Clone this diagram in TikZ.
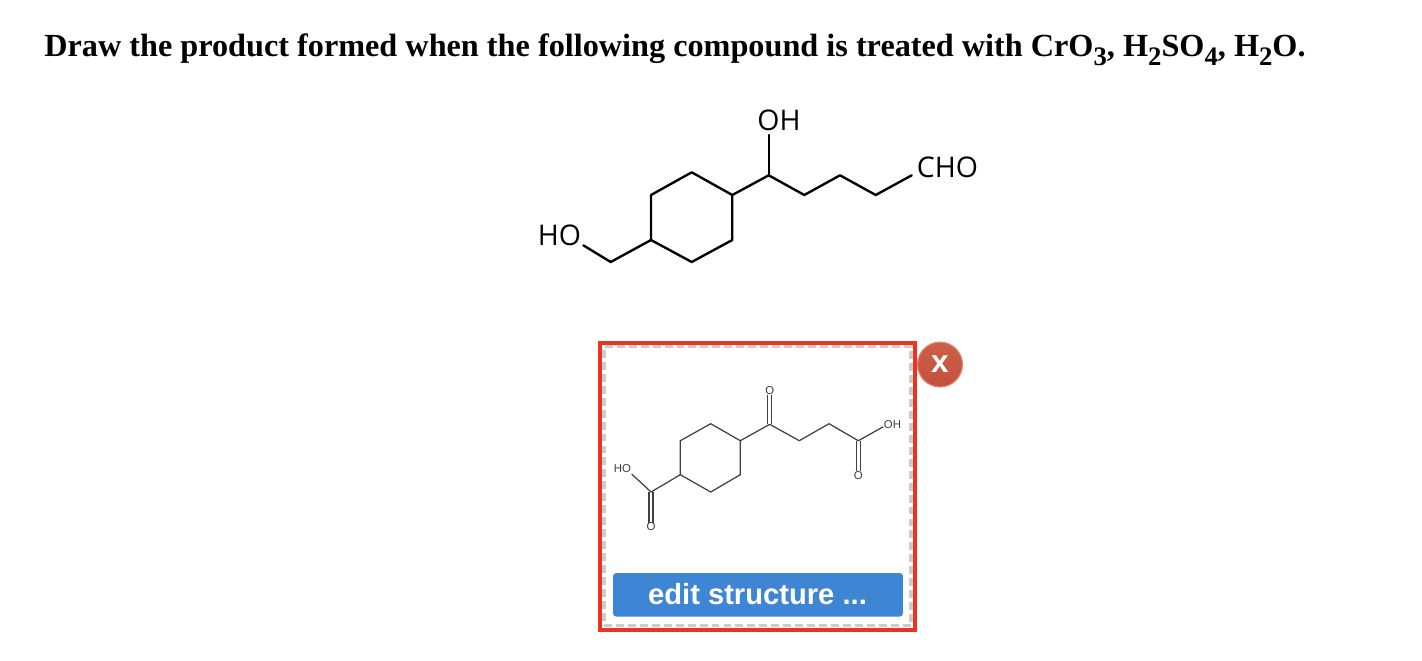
\documentclass[tikz,border=0pt]{standalone}
\usepackage{fontspec}
\setmainfont{Liberation Serif}
\setsansfont{Liberation Sans}
\newfontfamily\atomfont{Open Sans}
\usetikzlibrary{shadings}
\definecolor{framered}{HTML}{EA3323}
\definecolor{dashgrey}{HTML}{CCCCCC}
\definecolor{buttonblue}{HTML}{3E85D4}
\definecolor{closered}{HTML}{C4503C}
\definecolor{closerim}{HTML}{E58C74}
\definecolor{bondgrey}{HTML}{404040}
\newcommand{\subnum}[1]{\raisebox{-0.28em}{\fontsize{15.2}{15}\selectfont #1}}
\tikzset{
    bond/.style={line width=1.35pt,black,line join=round,line cap=round},
    thinbond/.style={line width=0.7pt,bondgrey,line join=round},
    bigatom/.style={font=\atomfont\fontsize{16.2}{16}\selectfont,text=black,inner sep=0pt},
    smallatom/.style={font=\sffamily\fontsize{6.5}{7}\selectfont,text=bondgrey,inner sep=0pt}
}

\begin{document}
\begin{tikzpicture}[x=0.02cm,y=-0.02cm]
    \useasboundingbox[fill=white] (0,0) rectangle (1422,660);

    \node[anchor=base west,inner sep=0pt,font=\bfseries\fontsize{18.35}{20}\selectfont] (title) at (44,56)
        {Draw the product formed when the following compound is treated with CrO\subnum{3}, H\subnum{2}SO\subnum{4}, H\subnum{2}O.};

    % starting compound
    \node[bigatom] (oh) at (779,120) {OH};
    \node[bigatom] (cho) at (947.5,167) {CHO};
    \node[bigatom] (ho) at (559.5,235.5) {HO};

    \coordinate (r1) at (691.7,172.3);
    \coordinate (r2) at (732.3,195);
    \coordinate (r3) at (732.3,240);
    \coordinate (r4) at (691.7,262);
    \coordinate (r5) at (651,240);
    \coordinate (r6) at (651,195);
    \coordinate (c1) at (768.7,175.3);
    \coordinate (c2) at (804.3,195);
    \coordinate (c3) at (840,175.3);
    \coordinate (c4) at (875.7,195);
    \coordinate (c5) at (911.7,175.3);
    \coordinate (c6) at (610.7,262);
    \coordinate (ohend) at (768.7,135);
    \coordinate (hoend) at (583.3,245.3);

    \draw[bond] (r1) -- (r2) -- (r3) -- (r4) -- (r5) -- (r6) -- cycle;
    \draw[bond] (r2) -- (c1) -- (c2) -- (c3) -- (c4) -- (c5);
    \draw[bond] (c1) -- (ohend);
    \draw[bond] (r5) -- (c6) -- (hoend);

    % answer box
    \node[draw=dashgrey,line width=2pt,dash pattern=on 4.5pt off 2.3pt,minimum width=6.14cm,minimum height=5.58cm,inner sep=0pt] (inner) at (757.5,486.2) {};
    \node[draw=framered,line width=2.3pt,minimum width=6.29cm,minimum height=5.73cm,inner sep=0pt] (frame) at (757.3,486.3) {};
    \node[fill=buttonblue,rounded corners=1.8pt,minimum width=5.8cm,minimum height=0.87cm,inner sep=0pt] (edit) at (758,594.8) {};
    \node[text=white,inner sep=0pt,font=\sffamily\bfseries\fontsize{16.6}{18}\selectfont] (edittext) at (757.5,594) {edit structure ...};

    \node[circle,draw=closerim,line width=0.6pt,top color=closered!75!closerim,bottom color=closered,minimum size=0.9cm,inner sep=0pt,
        text=white,font=\sffamily\bfseries\fontsize{18}{18}\selectfont] (close) at (940,364.5) {x};

    % product
    \node[smallatom] (o1) at (769.7,390.3) {O};
    \node[smallatom] (oh2) at (892.5,424.5) {OH};
    \node[smallatom] (o2) at (858.3,475.5) {O};
    \node[smallatom] (ho2) at (622.5,468.5) {HO};
    \node[smallatom] (o3) at (651,527) {O};

    \coordinate (p1) at (710.7,423.7);
    \coordinate (p2) at (740.3,440.7);
    \coordinate (p3) at (740.3,474.7);
    \coordinate (p4) at (710.7,492);
    \coordinate (p5) at (680.3,474.7);
    \coordinate (p6) at (680.3,440.7);
    \coordinate (k1) at (769.7,424.3);
    \coordinate (k2) at (799.3,440.7);
    \coordinate (k3) at (829,423.7);
    \coordinate (k4) at (858.3,440.7);
    \coordinate (k5) at (651,492);
    \coordinate (oh2end) at (883.3,426.7);
    \coordinate (ho2end) at (631.7,474);

    \draw[thinbond] (p1) -- (p2) -- (p3) -- (p4) -- (p5) -- (p6) -- cycle;
    \draw[thinbond] (p2) -- (k1) -- (k2) -- (k3) -- (k4) -- (oh2end);
    \draw[thinbond] (p5) -- (k5) -- (ho2end);
    \draw[thinbond] ([xshift=-1.1pt]k1) -- ([xshift=-1.1pt]k1 |- o1.south);
    \draw[thinbond] ([xshift=1.1pt]k1) -- ([xshift=1.1pt]k1 |- o1.south);
    \draw[thinbond] ([xshift=-1.1pt]k4) -- ([xshift=-1.1pt]k4 |- o2.north);
    \draw[thinbond] ([xshift=1.1pt]k4) -- ([xshift=1.1pt]k4 |- o2.north);
    \draw[thinbond] ([xshift=-1.1pt]k5) -- ([xshift=-1.1pt]k5 |- o3.north);
    \draw[thinbond] ([xshift=1.1pt]k5) -- ([xshift=1.1pt]k5 |- o3.north);
\end{tikzpicture}
\end{document}
